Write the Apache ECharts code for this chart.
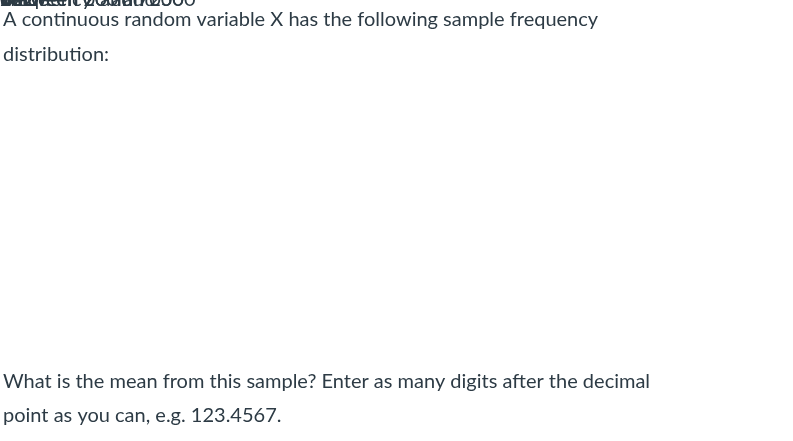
<!DOCTYPE html>
<html>
<head>
<meta charset="utf-8">
<script src="https://cdn.jsdelivr.net/npm/echarts@6/dist/echarts.min.js"></script>
<style>html,body{margin:0;padding:0;background:#fff}#main{width:793px;height:441px}</style>
</head>
<body>
<div id="main"></div>
<script>
var chart = echarts.init(document.getElementById('main'));

var introLines = ['A continuous random variable X has the following sample frequency', 'distribution:'];
var headers = ['Value', 'Frequency'];
var values = ['0', 'Between 0 and 70', 'Between 70 and 200', 'Between 200 and 500'];
var frequencies = [73, 37, 182, 232];
var questionLines = ['What is the mean from this sample? Enter as many digits after the decimal', 'point as you can, e.g. 123.4567.'];

var font = 'Lato, "Open Sans", sans-serif';
var textColor = '#2d3b45';
var left = 3, right = 777, mid = 390, top = 92, rowH = 50.4;

var els = [];
introLines.forEach(function (t, i) {
  els.push({ type: 'text', x: 3, y: 20 + i * 35, style: { text: t, font: '20px ' + font, fill: textColor, textVerticalAlign: 'middle' } });
});
var rows = [headers].concat(values.map(function (v, i) { return [v, String(frequencies[i])]; }));
rows.forEach(function (r, i) {
  var y = top + i * rowH;
  els.push({ type: 'rect', shape: { x: left + 0.5, y: y + 0.5, width: mid - left, height: rowH }, style: { fill: 'none', stroke: '#a0a0a0', lineWidth: 1 } });
  els.push({ type: 'rect', shape: { x: mid + 0.5, y: y + 0.5, width: right - mid, height: rowH }, style: { fill: 'none', stroke: '#a0a0a0', lineWidth: 1 } });
  els.push({ type: 'text', x: left + 4, y: y + rowH / 2 + 1, style: { text: r[0], font: '20px ' + font, fill: textColor, textVerticalAlign: 'middle' } });
  els.push({ type: 'text', x: mid + 4, y: y + rowH / 2 + 1, style: { text: r[1], font: '20px ' + font, fill: textColor, textVerticalAlign: 'middle' } });
});
questionLines.forEach(function (t, i) {
  els.push({ type: 'text', x: 3, y: 382 + i * 34, style: { text: t, font: '20px ' + font, fill: textColor, textVerticalAlign: 'middle' } });
});

chart.setOption({ animation: false, graphic: els });
</script>
</body>
</html>
